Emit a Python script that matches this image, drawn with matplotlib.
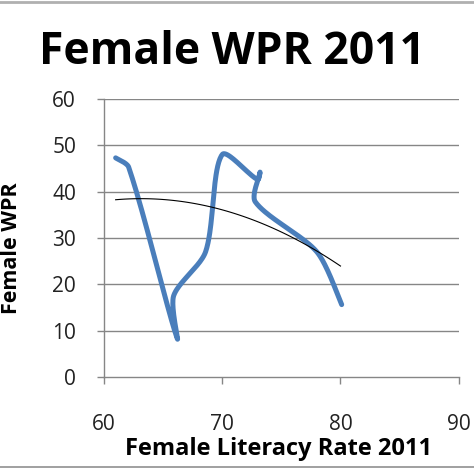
import numpy as np
import matplotlib
matplotlib.use("Agg")
import matplotlib.pyplot as plt
from matplotlib.lines import Line2D

# values
literacy = [61.0, 62.1, 66.2, 65.9, 68.6, 70.0, 73.0, 73.2, 72.8, 78.0, 80.1]
wpr = [47.3, 45.3, 8.3, 17.5, 27.0, 48.0, 42.6, 44.2, 37.8, 27.0, 15.6]

# black polynomial trendline
trend_x = [61.0, 65.0, 69.5, 74.0, 76.5, 80.0]
trend_y = [38.2, 38.5, 36.2, 32.3, 29.7, 23.8]

x_ticks = [60, 70, 80, 90]
y_ticks = [0, 10, 20, 30, 40, 50, 60]


def smooth(ax, xs, ys, k=0.28, n=40):
    # bezier smoothing done in pixel space, control arms weighted by segment length
    p = ax.transData.transform(np.column_stack([xs, ys]))
    m = len(p)
    tang = np.zeros_like(p)
    for i in range(m):
        tang[i] = p[min(i + 1, m - 1)] - p[max(i - 1, 0)]
    d = np.linalg.norm(np.diff(p, axis=0), axis=1)
    out = []
    for i in range(m - 1):
        d_in = d[i - 1] if i > 0 else d[i]
        d_out = d[i + 1] if i < m - 2 else d[i]
        c1 = p[i] + tang[i] * k * d[i] / (d_in + d[i])
        c2 = p[i + 1] - tang[i + 1] * k * d[i] / (d[i] + d_out)
        t = np.linspace(0, 1, n)[:, None]
        seg = ((1 - t) ** 3) * p[i] + 3 * ((1 - t) ** 2) * t * c1 + 3 * (1 - t) * t ** 2 * c2 + t ** 3 * p[i + 1]
        out.append(seg)
    out = ax.transData.inverted().transform(np.vstack(out))
    return out[:, 0], out[:, 1]


plt.rcParams['font.family'] = ['Open Sans', 'DejaVu Sans']

fig = plt.figure(figsize=(4.74, 4.74), dpi=100)
ax = fig.add_axes([0.219, 0.205, 0.749, 0.586])
ax.set_xlim(60, 90)
ax.set_ylim(0, 60)

grid_col = '#868686'
for v in y_ticks[1:]:
    ax.axhline(v, color=grid_col, lw=1.0, zorder=0)

sx, sy = smooth(ax, literacy, wpr)
ax.plot(sx, sy, color='#4A7EBB', lw=3.6, solid_capstyle='round', solid_joinstyle='round', zorder=2)

coef = np.polyfit(trend_x, trend_y, 2)
tx = np.linspace(trend_x[0], trend_x[-1], 100)
ax.plot(tx, np.polyval(coef, tx), color='black', lw=0.8, zorder=3)

ax.set_xticks(x_ticks)
ax.set_yticks(y_ticks)
for s in ['top', 'right']:
    ax.spines[s].set_visible(False)
for s in ['left', 'bottom']:
    ax.spines[s].set_color(grid_col)
    ax.spines[s].set_linewidth(1.0)
ax.tick_params(axis='both', colors=grid_col, length=5, width=1.0, labelsize=15, labelcolor='#222222')
ax.tick_params(axis='x', pad=22)
ax.tick_params(axis='y', pad=15)

fig.text(0.489, 0.89, 'Female WPR 2011', ha='center', va='center', fontsize=32, fontweight='bold')
fig.text(0.587, 0.052, 'Female Literacy Rate 2011', ha='center', va='center', fontsize=17, fontweight='bold')
fig.text(0.025, 0.476, 'Female WPR', ha='center', va='center', rotation=90, fontsize=15.5, fontweight='bold')

fig.add_artist(Line2D([0, 1], [0.995, 0.995], color='#B0B0B0', lw=2))
fig.add_artist(Line2D([0, 1], [0.015, 0.015], color='#909090', lw=1.2))

fig.savefig('out.png', dpi=100)
